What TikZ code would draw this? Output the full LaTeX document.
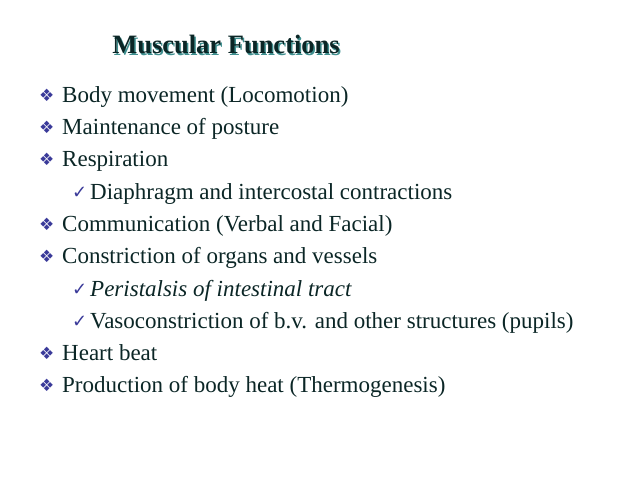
\documentclass[tikz,border=0pt]{standalone}
\usepackage{fontspec}
\setmainfont{Liberation Serif}
\newfontfamily\sym{DejaVu Sans}
\definecolor{txt}{HTML}{0B2626}
\definecolor{bul}{HTML}{3A3A99}
\definecolor{shad}{HTML}{3F8F8F}
\begin{document}
\begin{tikzpicture}[x=1pt,y=-1pt,
  item/.style={anchor=base west,inner sep=0pt,font=\fontsize{23}{26}\selectfont,text=txt},
  bull/.style={anchor=base west,inner sep=0pt,font=\sym\fontsize{17}{19}\selectfont,text=bul},
  chk/.style={anchor=base west,inner sep=0pt,font=\sym\fontsize{18}{19}\selectfont,text=bul}]
\useasboundingbox (0,0) rectangle (638,478);
\node[anchor=base,inner sep=0pt,font=\bfseries\fontsize{26.5}{30}\selectfont,text=shad] (ts) at (227.5,55.5) {Muscular Functions};
\node[anchor=base,inner sep=0pt,font=\bfseries\fontsize{26.5}{30}\selectfont,text=txt] (t) at (226,54) {Muscular Functions};
\foreach \y/\s [count=\i] in {103/Body movement (Locomotion),135/Maintenance of posture,167/Respiration,232/Communication (Verbal and Facial),264/Constriction of organs and vessels,361/Heart beat,393/Production of body heat (Thermogenesis)}{
  \node[bull] (b\i) at (39,\y-1) {❖};
  \node[item] (l\i) at (62,\y) {\s};
}
\node[chk] (c1) at (72,199) {✓};
\node[item] (s1) at (90,200) {Diaphragm and intercostal contractions};
\node[chk] (c2) at (72,296) {✓};
\node[item] (s2) at (90,297) {\itshape Peristalsis of intestinal tract};
\node[chk] (c3) at (72,328) {✓};
\node[item] (s3) at (90,329) {Vasoconstriction of b.v. and other structures (pupils)};
\end{tikzpicture}
\end{document}
